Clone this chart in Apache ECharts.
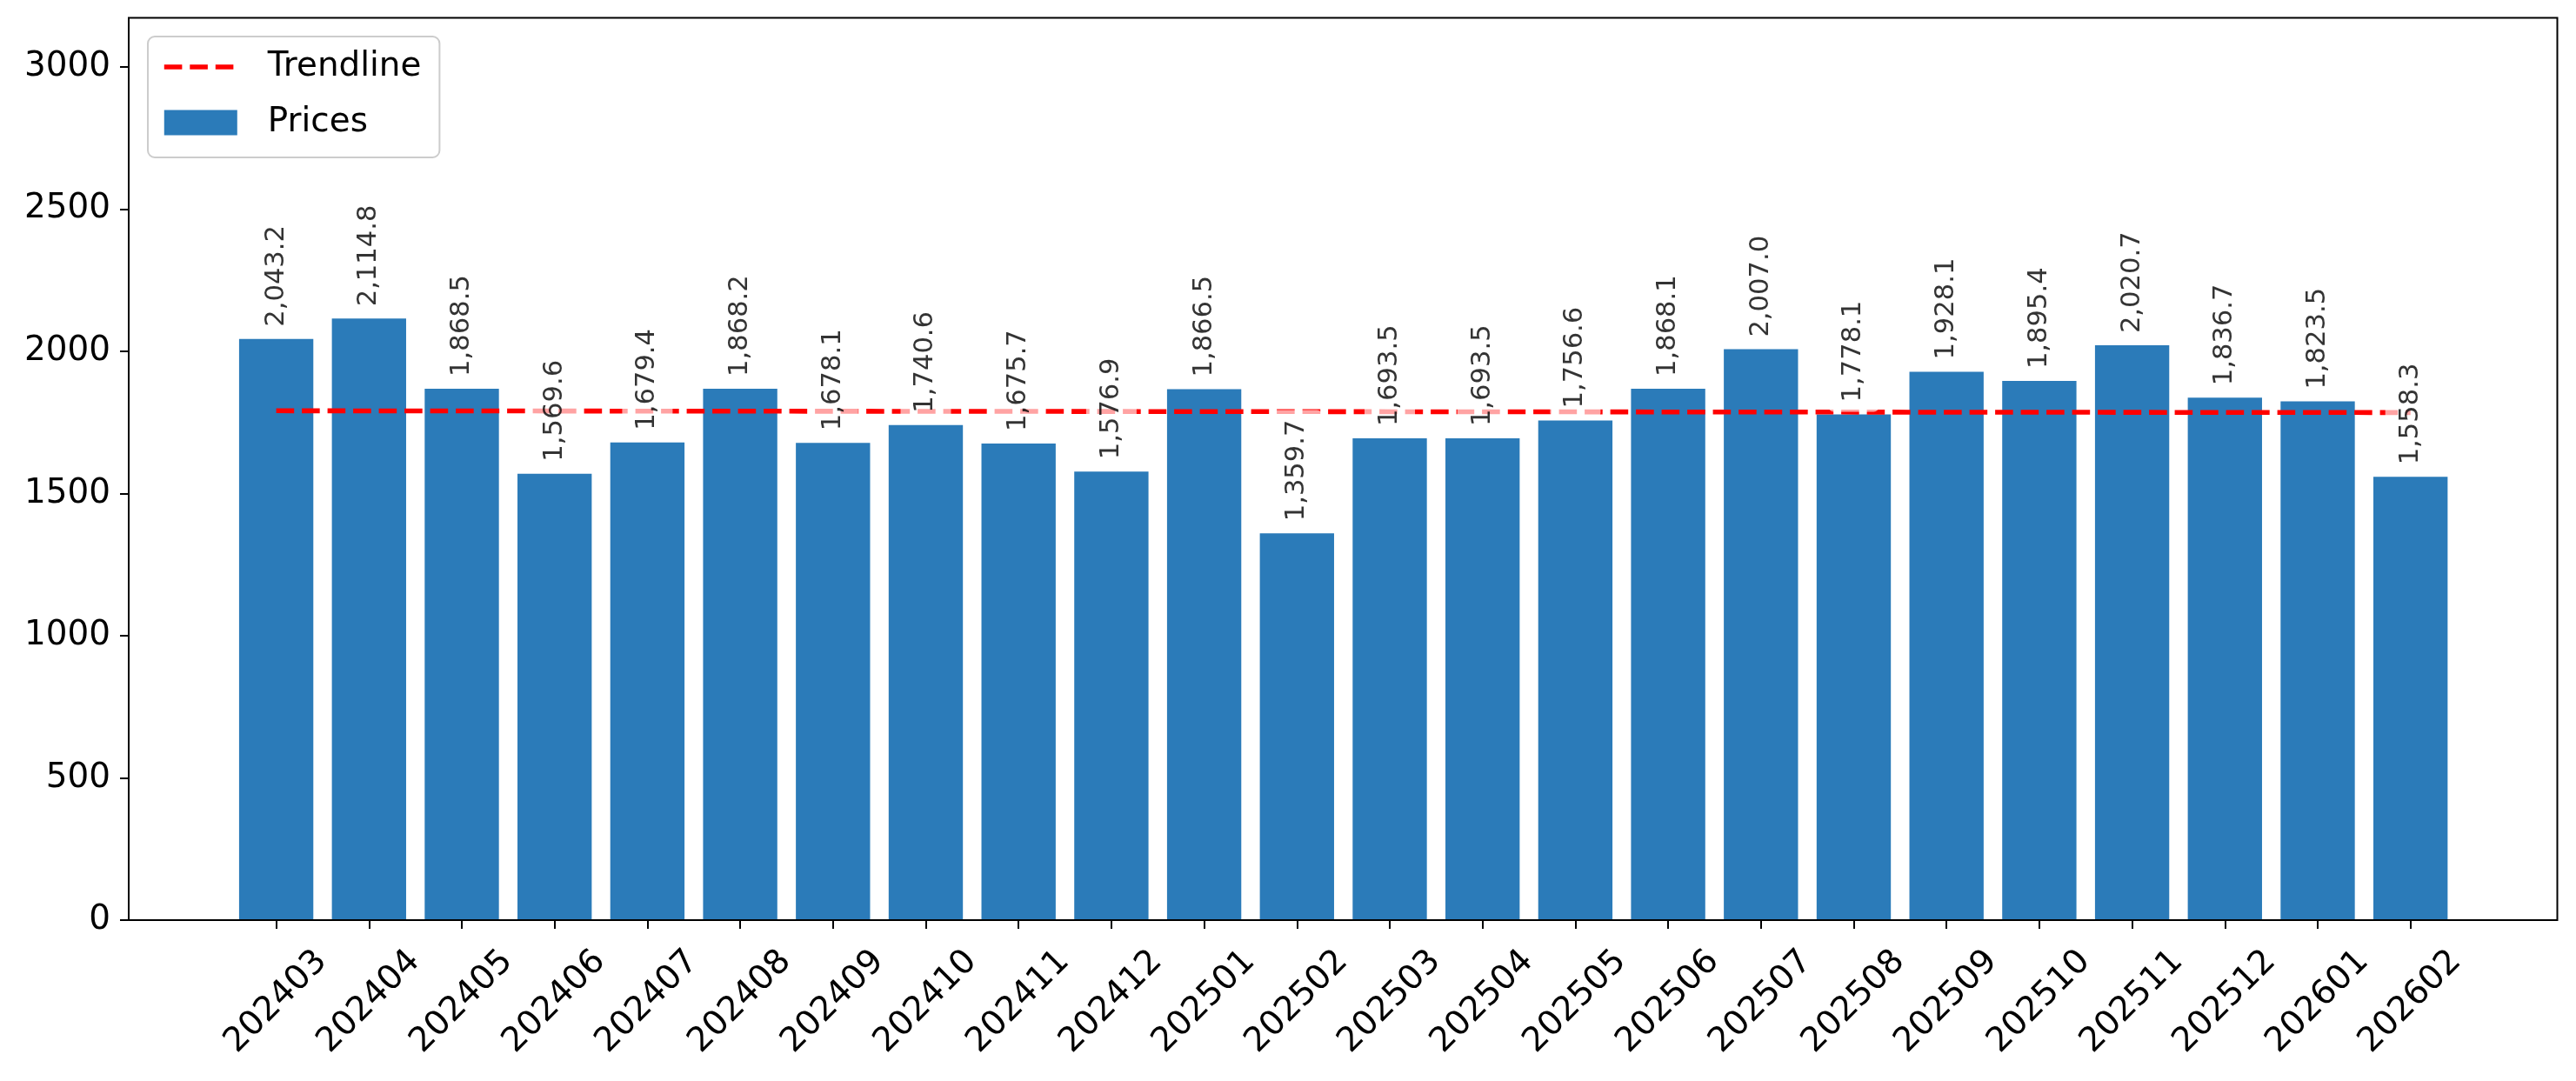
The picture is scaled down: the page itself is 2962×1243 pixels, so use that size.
<!DOCTYPE html>
<html>
<head>
<meta charset="utf-8">
<style>
html,body{margin:0;padding:0;background:#fff;}
#chart{width:2962px;height:1243px;}
</style>
<script src="https://cdn.jsdelivr.net/npm/echarts@6/dist/echarts.min.js"></script>
</head>
<body>
<div id="chart"></div>
<script>
const categories = ['202403','202404','202405','202406','202407','202408','202409','202410','202411','202412','202501','202502','202503','202504','202505','202506','202507','202508','202509','202510','202511','202512','202601','202602'];
const prices = [2043.2,2114.8,1868.5,1569.6,1679.4,1868.2,1678.1,1740.6,1675.7,1576.9,1866.5,1359.7,1693.5,1693.5,1756.6,1868.1,2007.0,1778.1,1928.1,1895.4,2020.7,1836.7,1823.5,1558.3];
const trendEnds = [1790.7, 1784.4];
const yMin = 0, yMax = 3172.2, yStep = 500;

const FONT = 'DejaVu Sans';
const fmt = v => Number(v).toLocaleString('en-US',{minimumFractionDigits:1, maximumFractionDigits:1});

const chart = echarts.init(document.getElementById('chart'), null, {renderer:'canvas'});
const gridTop = 20.5, gridBottom = 1243 - 1058;
const dash = [20.6, 8.9];
chart.setOption({
  animation:false,
  backgroundColor:'#fff',
  grid:[
    {left:148, right:21.5, top:gridTop, bottom:gridBottom, show:true, borderColor:'#000', borderWidth:2, backgroundColor:'transparent', z:10},
    {left:264.25, right:136.95, top:gridTop, bottom:gridBottom}
  ],
  legend:{
    orient:'vertical', left:170, top:42,
    padding:[15,21,20,16],
    itemWidth:84, itemHeight:29, itemGap:24,
    backgroundColor:'rgba(255,255,255,0.8)', borderColor:'#cccccc', borderWidth:2, borderRadius:8,
    textStyle:{fontFamily:FONT, fontSize:38.9, color:'#000', lineHeight:40, padding:[0,0,0,30]},
    data:[
      {name:'Trendline', itemStyle:{opacity:0}, lineStyle:{color:'#ff0000', width:5.56, type:dash, opacity:1}},
      {name:'Prices', icon:'rect'}
    ]
  },
  xAxis:[
    {type:'value', gridIndex:0, show:false, min:0, max:1},
    {type:'category', gridIndex:1, data:categories, boundaryGap:true,
     axisLine:{show:false},
     axisTick:{show:true, alignWithLabel:true, length:10, lineStyle:{color:'#000', width:2}},
     axisLabel:{rotate:45, align:'center', verticalAlign:'middle', margin:94, fontFamily:FONT, fontSize:38.9, color:'#000', interval:0},
     splitLine:{show:false}}
  ],
  yAxis:[
    {type:'value', gridIndex:0, min:yMin, max:yMax, interval:yStep,
     axisLine:{show:false},
     axisTick:{show:true, length:10, lineStyle:{color:'#000', width:2}},
     axisLabel:{margin:21, fontFamily:FONT, fontSize:38.9, color:'#000', showMaxLabel:false,
       formatter:v => (v % yStep === 0 ? String(v) : '')},
     splitLine:{show:false}},
    {type:'value', gridIndex:1, min:yMin, max:yMax, interval:yStep, show:false, splitLine:{show:false}}
  ],
  series:[
    {name:'Prices', type:'bar', xAxisIndex:1, yAxisIndex:1, data:prices, barWidth:'80%',
     itemStyle:{color:'#2b7bb9'}, z:2},
    {name:'Trendline', type:'line', xAxisIndex:1, yAxisIndex:1,
     data:[[categories[0], trendEnds[0]],[categories[categories.length-1], trendEnds[1]]],
     symbol:'none', showSymbol:false,
     lineStyle:{color:'#ff0000', width:5.56, type:dash}, itemStyle:{color:'#ff0000'}, z:3},
    {name:'labels', type:'scatter', xAxisIndex:1, yAxisIndex:1, data:prices, symbolSize:0, silent:true, z:5,
     label:{show:true, position:'top', distance:3, rotate:90, align:'left', verticalAlign:'middle',
       fontFamily:FONT, fontSize:30.6, color:'#000', lineHeight:36,
       backgroundColor:'rgba(255,255,255,0.8)', padding:[11,11,11,11], borderRadius:6,
       formatter:p => fmt(p.value)}}
  ]
});
</script>
</body>
</html>
